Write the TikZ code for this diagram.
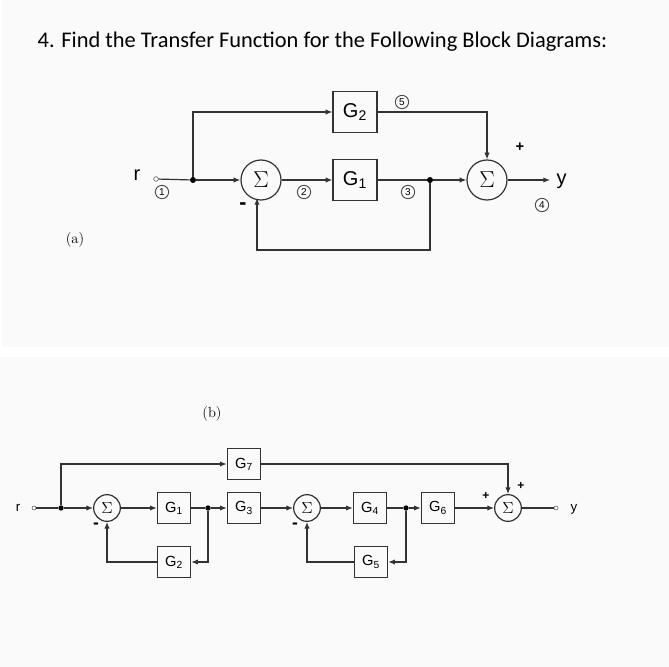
\documentclass[tikz,border=0pt]{standalone}
\usepackage{fontspec}
\setmainfont{Liberation Sans}
\newfontfamily\carlitofont{Carlito}
\usetikzlibrary{arrows.meta}
\begin{document}
\begin{tikzpicture}[x=0.75pt,y=-0.75pt,
  ln/.style={line width=0.9pt,draw=black!80},
  ar/.style={ln,-{Latex[length=5pt,width=4pt]}},
  blk/.style={draw=black!80,line width=0.9pt,minimum width=33pt,minimum height=31pt,inner sep=0pt,font=\fontsize{15}{15}\selectfont},
  blks/.style={draw=black!80,line width=0.9pt,minimum width=25pt,minimum height=23pt,inner sep=0pt,font=\fontsize{11}{11}\selectfont},
  sm/.style={draw=black!80,line width=0.9pt,circle,minimum size=30pt,inner sep=0pt,font=\fontsize{19}{19}\selectfont},
  sms/.style={draw=black!80,line width=0.9pt,circle,minimum size=20pt,inner sep=0pt,font=\fontsize{13}{13}\selectfont},
  dot/.style={circle,fill=black,inner sep=0pt,minimum size=4.5pt},
  odot/.style={circle,draw=black!70,inner sep=0pt,minimum size=3.5pt,fill=white},
  num/.style={circle,draw=black!70,line width=0.7pt,inner sep=0pt,minimum size=10pt,font=\fontsize{7.5}{7.5}\selectfont},
  lab/.style={font=\fontsize{15}{15}\selectfont}]
\useasboundingbox (0,0) rectangle (669,667);
\fill[black!2] (2,0) rectangle (669,347);
\fill[black!2] (0,357) rectangle (669,667);
\node[anchor=west,font=\carlitofont\fontsize{16.8}{19}\selectfont] (title) at (33,42) {4. Find the Transfer Function for the Following Block Diagrams:};
% (a)
\node[font=\fontfamily{lmr}\fontsize{11}{11}\selectfont] (la) at (75,240) {(a)};
\node[lab] (r) at (137,175) {r};
\node[odot] (rin) at (156,179) {};
\node[dot] (j1) at (193,180) {};
\node[sm] (s1) at (261,180) {$\Sigma$};
\node[blk] (g1) at (355,180) {G\textsubscript{1}};
\node[blk] (g2) at (355,112) {G\textsubscript{2}};
\node[dot] (j2) at (430,180) {};
\node[sm] (s2) at (487,180) {$\Sigma$};
\coordinate (yend) at (550,180);
\node[lab,anchor=west] (y) at (552,181) {y};
\draw[ln] (rin) -- (j1);
\draw[ar] (j1) -- (s1);
\draw[ar] (s1) -- (g1);
\draw[ln] (g1) -- (j2);
\draw[ar] (j2) -- (s2);
\draw[ar] (s2) -- (yend);
\draw[ar] (j1) |- (g2);
\draw[ar] (g2) -| (s2);
\draw[ar] (j2) |- (257,250) -- (257,198);
\node[num] (n1) at (162,192) {1};
\node[num] (n2) at (304,192) {2};
\node[num] (n3) at (408,192) {3};
\node[num] (n4) at (542,205) {4};
\node[num] (n5) at (402,102) {5};
\node[font=\bfseries\fontsize{16}{16}\selectfont] (m1) at (243,206) {-};
\node[font=\bfseries\fontsize{11}{11}\selectfont] (p1) at (520,147) {+};
% (b)
\node[font=\fontfamily{lmr}\fontsize{11}{11}\selectfont] (lb) at (212,414) {(b)};
\node[font=\fontsize{10}{10}\selectfont] (rb) at (18,508) {r};
\node[odot,minimum size=3pt] (rbi) at (34,508) {};
\node[dot,minimum size=4pt] (k1) at (61,508) {};
\node[sms] (t1) at (107,508) {$\Sigma$};
\node[blks] (h1) at (174,508) {G\textsubscript{1}};
\node[blks] (h2) at (174,562) {G\textsubscript{2}};
\node[dot,minimum size=4pt] (k2) at (208,508) {};
\node[blks] (h3) at (244,508) {G\textsubscript{3}};
\node[blks] (h7) at (244,464) {G\textsubscript{7}};
\node[sms] (t2) at (307,508) {$\Sigma$};
\node[blks] (h4) at (370,508) {G\textsubscript{4}};
\node[blks] (h5) at (371,562) {G\textsubscript{5}};
\node[dot,minimum size=4pt] (k3) at (406,508) {};
\node[blks] (h6) at (438,508) {G\textsubscript{6}};
\node[sms] (t3) at (508,508) {$\Sigma$};
\node[odot,minimum size=3pt] (ybo) at (556,508) {};
\node[font=\fontsize{10}{10}\selectfont,anchor=west] (yb) at (566,509) {y};
\draw[ln] (rbi) -- (k1);
\draw[ar] (k1) -- (t1);
\draw[ar] (t1) -- (h1);
\draw[ln] (h1) -- (k2);
\draw[ar] (k2) -- (h3);
\draw[ar] (h3) -- (t2);
\draw[ar] (t2) -- (h4);
\draw[ln] (h4) -- (k3);
\draw[ar] (k3) -- (h6);
\draw[ar] (h6) -- (t3);
\draw[ln] (t3) -- (ybo);
\draw[ar] (k1) |- (h7);
\draw[ar] (h7) -| (t3);
\draw[ar] (k2) |- (h2);
\draw[ar] (h2) -| (t1);
\draw[ar] (k3) |- (h5);
\draw[ar] (h5) -| (t2);
\node[font=\bfseries\fontsize{13}{13}\selectfont] (m2) at (96,526) {-};
\node[font=\bfseries\fontsize{13}{13}\selectfont] (m3) at (295,526) {-};
\node[font=\bfseries\fontsize{9}{9}\selectfont] (p2) at (486,496) {+};
\node[font=\bfseries\fontsize{9}{9}\selectfont] (p3) at (521,486) {+};
\end{tikzpicture}
\end{document}
